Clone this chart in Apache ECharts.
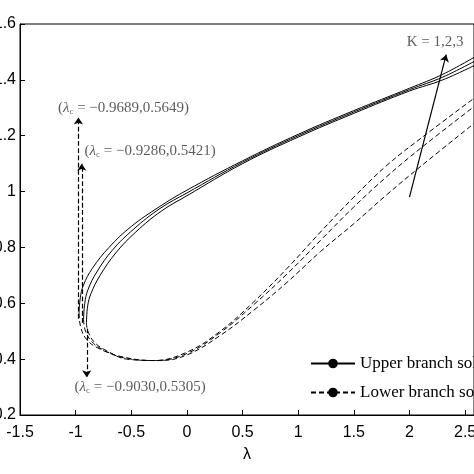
<!DOCTYPE html>
<html><head><meta charset="utf-8">
<script src="https://cdn.jsdelivr.net/npm/echarts@6/dist/echarts.min.js"></script>
<style>html,body{margin:0;padding:0;background:#fff}#c{width:474px;height:474px}</style>
</head><body><div id="c"></div>
<script>
const upperK1=[[-0.969,0.565],[-0.958,0.62],[-0.93,0.665],[-0.85,0.725],[-0.7,0.80],[-0.5,0.875],[-0.25,0.945],[0,1.005],[0.5,1.11],[1.0,1.205],[1.5,1.29],[2.0,1.37],[2.3,1.42],[2.6,1.485]];
const upperK2=[[-0.929,0.542],[-0.918,0.60],[-0.89,0.648],[-0.81,0.712],[-0.67,0.79],[-0.48,0.865],[-0.24,0.94],[0,0.995],[0.5,1.105],[1.0,1.2],[1.5,1.285],[2.0,1.365],[2.3,1.41],[2.6,1.47]];
const upperK3=[[-0.903,0.5305],[-0.892,0.59],[-0.862,0.635],[-0.78,0.70],[-0.64,0.78],[-0.46,0.855],[-0.23,0.93],[0,0.985],[0.5,1.10],[1.0,1.195],[1.5,1.28],[2.0,1.36],[2.3,1.40],[2.6,1.455]];
const lowerK1=[[-0.969,0.565],[-0.955,0.515],[-0.9,0.47],[-0.8,0.44],[-0.6,0.41],[-0.3,0.395],[0,0.425],[0.3,0.50],[0.6,0.605],[0.9,0.725],[1.2,0.855],[1.5,0.98],[1.8,1.095],[2.1,1.19],[2.6,1.34]];
const lowerK2=[[-0.929,0.542],[-0.915,0.505],[-0.86,0.465],[-0.76,0.435],[-0.57,0.405],[-0.28,0.395],[0,0.42],[0.3,0.495],[0.6,0.595],[0.9,0.705],[1.2,0.825],[1.5,0.945],[1.8,1.055],[2.1,1.155],[2.6,1.31]];
const lowerK3=[[-0.903,0.5305],[-0.89,0.50],[-0.83,0.46],[-0.72,0.43],[-0.54,0.40],[-0.25,0.395],[0,0.415],[0.3,0.485],[0.6,0.575],[0.9,0.675],[1.2,0.785],[1.5,0.885],[1.8,0.99],[2.1,1.09],[2.6,1.25]];
const xTicks={min:-1.5,max:2.58,interval:0.5};
const yTicks={min:0.2,max:1.6,interval:0.2};
const notes=[
 {val:'−0.9689,0.5649',x:-0.57,y:1.30,ax:-0.975,ay0:0.545,ay1:1.265},
 {val:'−0.9286,0.5421',x:-0.33,y:1.145,ax:-0.945,ay0:0.53,ay1:1.10},
 {val:'−0.9030,0.5305',x:-0.42,y:0.30,ax:-0.9,ay0:0.51,ay1:0.335}
];
const kArrow=[[2.0,0.98],[2.33,1.49]];
const serif='"Liberation Serif","DejaVu Serif",serif';
const sans='"Liberation Sans",Arial,sans-serif';
function ln(name,data,dash){return {type:'line',name,data,smooth:0.4,symbol:'none',lineStyle:{color:'#000',width:1,type:dash?[5,3]:'solid'},itemStyle:{color:'#000'},z:3};}
const series=[
 ln('Upper branch solution',upperK1,false),ln('Upper branch solution',upperK2,false),ln('Upper branch solution',upperK3,false),
 ln('Lower branch solution',lowerK1,true),ln('Lower branch solution',lowerK2,true),ln('Lower branch solution',lowerK3,true),
 {type:'scatter',data:[],markLine:{silent:true,symbol:['none','arrow'],symbolSize:7,label:{show:false},
   lineStyle:{color:'#000',width:1.2,type:'dashed'},
   data:notes.map(n=>[{coord:[n.ax,n.ay0]},{coord:[n.ax,n.ay1]}]).concat([[{coord:kArrow[0],lineStyle:{type:'solid'}},{coord:kArrow[1],lineStyle:{type:'solid'}}]])}},
 {type:'scatter',data:notes.map(n=>[n.x,n.y]).concat([[2.23,1.535]]),symbolSize:0,
   label:{show:true,position:'inside',fontFamily:serif,fontSize:15,color:'#333',
     formatter:p=>p.dataIndex<3?'({i|λ}{s|c} = '+notes[p.dataIndex].val+')':'K = 1,2,3',
     rich:{i:{fontFamily:serif,fontStyle:'italic',fontSize:15,color:'#333'},s:{fontFamily:serif,fontSize:9,color:'#333',verticalAlign:'bottom',padding:[8,0,0,0]}}}}
];
const chart=echarts.init(document.getElementById('c'));
chart.setOption({animation:false,
 grid:{left:20,top:24,right:0,bottom:59,containLabel:false,outerBoundsMode:'none',show:true,borderColor:'#000',borderWidth:1},
 legend:{data:['Upper branch solution','Lower branch solution'],orient:'vertical',left:305,top:350,itemWidth:44,itemHeight:12,itemGap:12,
   textStyle:{fontFamily:serif,fontSize:17,color:'#000'}},
 xAxis:{type:'value',...xTicks,name:'λ',nameLocation:'middle',nameGap:32,nameTextStyle:{fontFamily:sans,fontSize:16,color:'#000'},
   axisLine:{onZero:false,lineStyle:{color:'#000'}},axisTick:{inside:true,lineStyle:{color:'#000'}},splitLine:{show:false},
   axisLabel:{fontFamily:sans,fontSize:16,color:'#000',margin:10,showMaxLabel:false}},
 yAxis:{type:'value',...yTicks,axisLine:{show:true,onZero:false,lineStyle:{color:'#000'}},axisTick:{inside:true,lineStyle:{color:'#000'}},splitLine:{show:false},
   axisLabel:{fontFamily:sans,fontSize:16,color:'#000',margin:4,formatter:v=>String(Math.round(v*10)/10)}},
 series});
</script></body></html>
